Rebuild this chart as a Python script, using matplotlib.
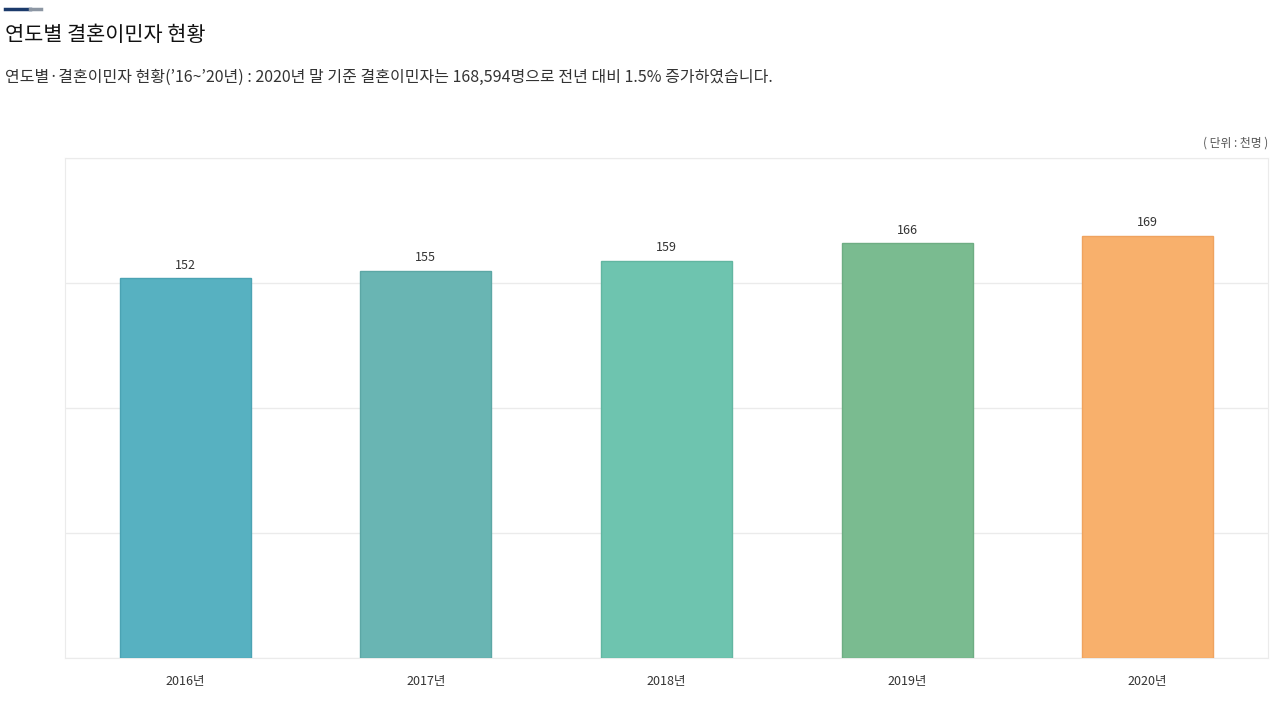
import matplotlib
matplotlib.use("Agg")
import matplotlib.pyplot as plt
from matplotlib.lines import Line2D

years = ["2016년", "2017년", "2018년", "2019년", "2020년"]
values = [152, 155, 159, 166, 169]
colors = ["#57B1C1", "#69B5B3", "#6EC4AF", "#7ABB90", "#F8B06C"]
edges = ["#4BA3B3", "#5CA7A5", "#62B6A1", "#6EAD83", "#EFA35F"]

plt.rcParams["font.family"] = "Noto Sans CJK KR"
W, H = 1280, 724
fig = plt.figure(figsize=(W/100, H/100), dpi=100)
ax = fig.add_axes([65/W, 1-658/H, (1268-65)/W, 500/H])
x = range(len(years))
ax.bar(x, values, width=0.545, color=colors, edgecolor=edges, linewidth=1, zorder=3)
for i, v in zip(x, values):
    ax.text(i, v + 2.5, str(v), ha="center", va="bottom", fontsize=9, color="#333333")
ax.set_ylim(0, 200)
ax.set_xlim(-0.5, 4.5)
ax.set_yticks([0, 50, 100, 150, 200])
ax.yaxis.grid(True, color="#EBEBEB", linewidth=1, zorder=0)
ax.tick_params(axis="y", left=False, labelleft=False)
ax.tick_params(axis="x", length=0, pad=12, labelsize=9, labelcolor="#333333")
ax.set_xticks(list(x))
ax.set_xticklabels(years)
for s in ax.spines.values():
    s.set_color("#EBEBEB")

fig.add_artist(Line2D([5/W, 30/W], [1-9/H, 1-9/H], color="#1B3A6B", linewidth=2.5))
fig.add_artist(Line2D([30/W, 41/W], [1-9/H, 1-9/H], color="#8C96A3", linewidth=2.5))
fig.text(5/W, 1-35/H, "연도별 결혼이민자 현황", fontsize=15, color="#111111", va="center")
fig.text(5/W, 1-77/H, "연도별·결혼이민자 현황(’16~’20년) : 2020년 말 기준 결혼이민자는 168,594명으로 전년 대비 1.5% 증가하였습니다.",
         fontsize=11.5, color="#333333", va="center")
fig.text(1268/W, 1-143/H, "( 단위 : 천명 )", fontsize=8.5, color="#555555", va="center", ha="right")
fig.savefig("out.png", dpi=100, facecolor="white")
